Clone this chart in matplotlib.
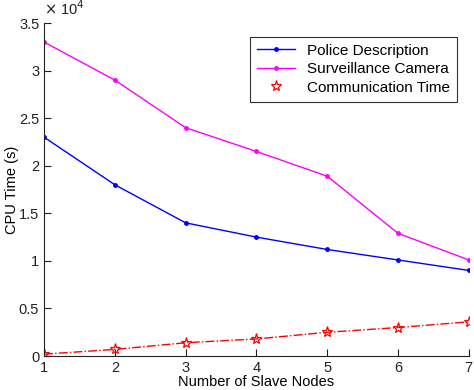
import numpy as np
import matplotlib.pyplot as plt
from matplotlib.lines import Line2D
from matplotlib.ticker import FuncFormatter

plt.rcParams['font.family'] = ['Liberation Sans', 'DejaVu Sans']

nodes = [1, 2, 3, 4, 5, 6, 7]
police = [23000, 18000, 14000, 12500, 11200, 10100, 9000]
camera = [33000, 29000, 24000, 21500, 18900, 12900, 10100]
comm = [200, 700, 1400, 1800, 2500, 3000, 3600]

fig = plt.figure(figsize=(4.74, 3.9), dpi=100)
ax = fig.add_axes([0.093, 0.087, 0.896, 0.854])

l1, = ax.plot(nodes, police, color='#0000ff', marker='.', markersize=5, linewidth=1,
              label='Police Description')
l2, = ax.plot(nodes, camera, color='#ff00ff', marker='.', markersize=5, linewidth=1,
              label='Surveillance Camera')
ax.plot(nodes, comm, color='#ff0000', marker='*', markersize=8, markerfacecolor='none',
        markeredgewidth=0.9, linestyle='-.', linewidth=1)
l3 = Line2D([], [], color='#ff0000', marker='*', markersize=8, markerfacecolor='none',
            markeredgewidth=0.9, linestyle='none', label='Communication Time')

ax.set_xlim(1, 7)
ax.set_ylim(0, 35000)
ax.set_xticks(nodes)
ax.set_yticks(np.arange(0, 35001, 5000))
ax.yaxis.set_major_formatter(FuncFormatter(lambda v, p: '%g' % (v / 1e4)))
ax.tick_params(direction='in', length=5, labelsize=10.5, colors='#222222')
ax.spines['top'].set_visible(False)
ax.spines['right'].set_visible(False)
for s in ['left', 'bottom']:
    ax.spines[s].set_color('#222222')

ax.text(0.0, 1.015, r'$\times$ 10$^4$', transform=ax.transAxes, fontsize=10.5,
        ha='left', va='bottom', color='#222222')

ax.set_xlabel('Number of Slave Nodes', fontsize=10.5)
ax.set_ylabel('CPU Time (s)', fontsize=10.5)
ax.xaxis.set_label_coords(0.5, -0.058)
ax.yaxis.set_label_coords(-0.058, 0.5)

leg = ax.legend(handles=[l1, l2, l3], loc='upper right', bbox_to_anchor=(0.99, 0.982),
                fontsize=11, fancybox=False, framealpha=1, edgecolor='#333333',
                handlelength=2.5, borderpad=0.45, labelspacing=0.3)
leg.get_frame().set_linewidth(0.8)

fig.savefig('out.png', dpi=100)
